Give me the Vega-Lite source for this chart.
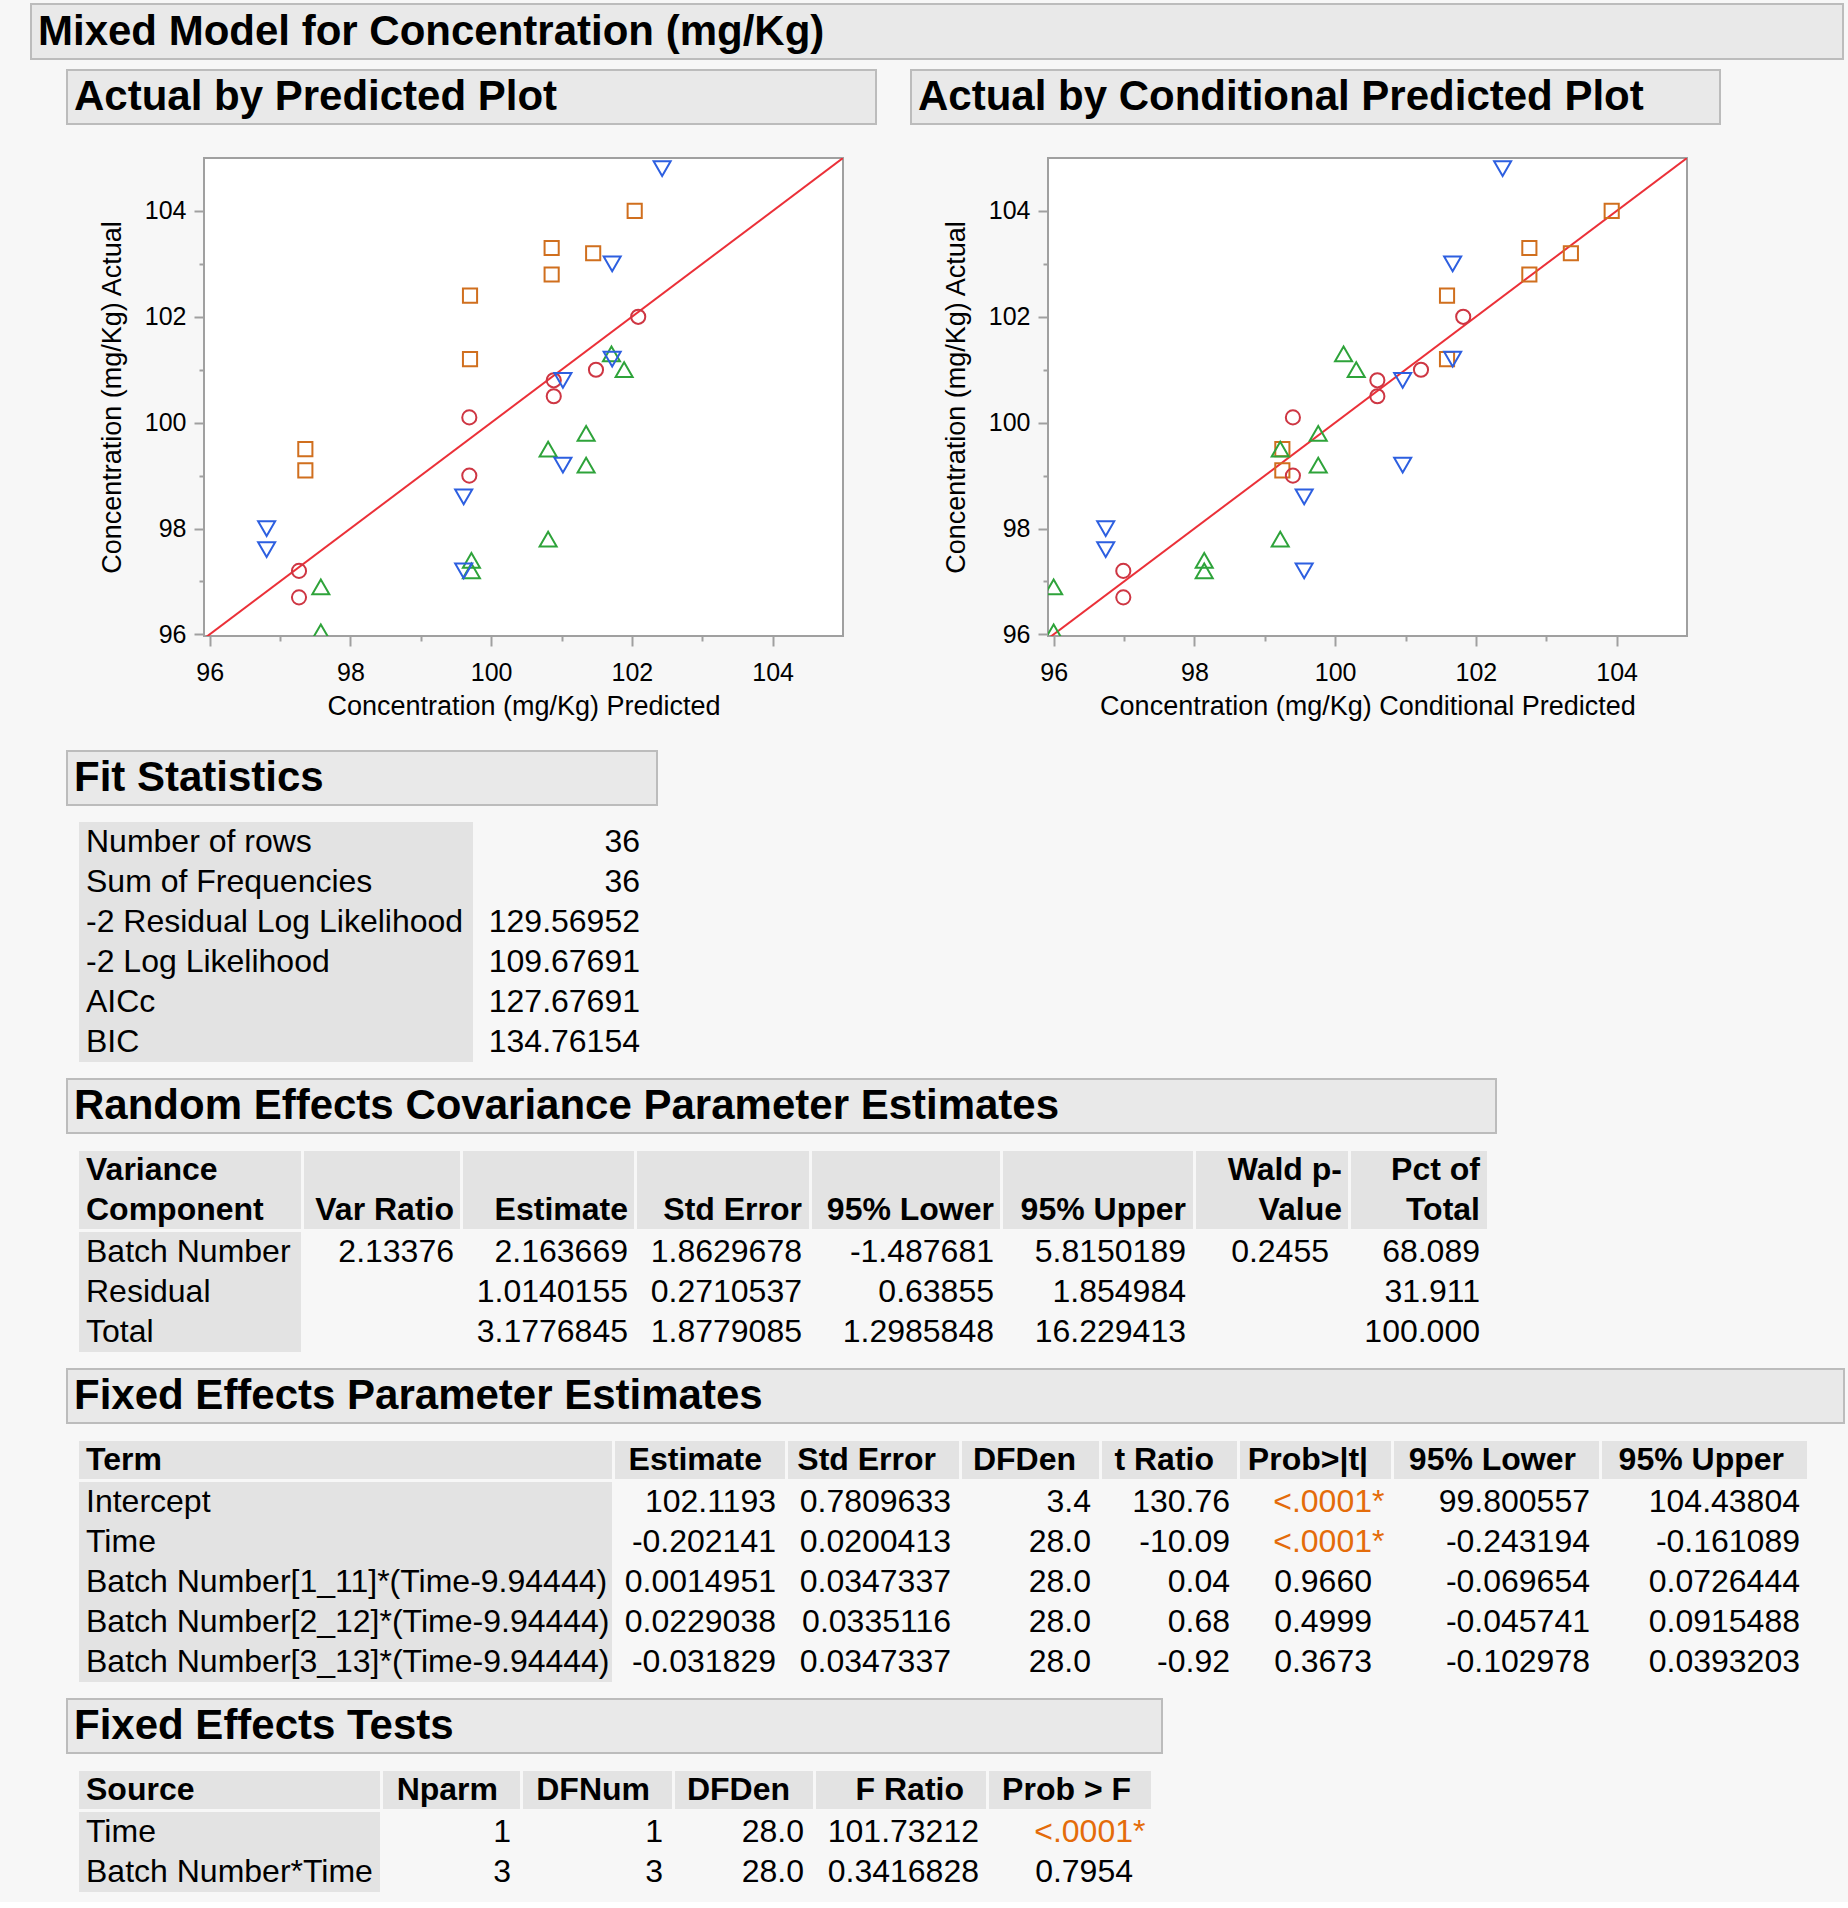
{
"$schema": "https://vega.github.io/schema/vega-lite/v6.json",
"background": "#f7f7f7",
"padding": {"left": 30, "top": 3, "right": 4, "bottom": 10},
"config": {
  "font": "Liberation Sans",
  "view": {"stroke": null},
  "text": {"font": "Liberation Sans", "fontSize": 32, "baseline": "middle", "color": "#000000"}
},
"datasets": {
  "heads": [
    {"k": "main", "h": "Mixed Model for Concentration (mg/Kg)"},
    {"k": "p1", "h": "Actual by Predicted Plot"},
    {"k": "p2", "h": "Actual by Conditional Predicted Plot"},
    {"k": "fit", "h": "Fit Statistics"},
    {"k": "re", "h": "Random Effects Covariance Parameter Estimates"},
    {"k": "fe", "h": "Fixed Effects Parameter Estimates"},
    {"k": "ft", "h": "Fixed Effects Tests"}
  ],
  "pts": [
    {"b": "4", "p": 102.04, "c": 103.93, "a": 104.0},
    {"b": "4", "p": 100.86, "c": 102.76, "a": 103.3},
    {"b": "4", "p": 101.45, "c": 103.35, "a": 103.2},
    {"b": "4", "p": 100.86, "c": 102.76, "a": 102.8},
    {"b": "4", "p": 99.70, "c": 101.59, "a": 102.4},
    {"b": "4", "p": 99.70, "c": 101.59, "a": 101.2},
    {"b": "4", "p": 97.36, "c": 99.25, "a": 99.5},
    {"b": "4", "p": 97.36, "c": 99.25, "a": 99.1},
    {"b": "1", "p": 102.09, "c": 101.82, "a": 102.0},
    {"b": "1", "p": 101.49, "c": 101.22, "a": 101.0},
    {"b": "1", "p": 100.89, "c": 100.60, "a": 100.8},
    {"b": "1", "p": 100.89, "c": 100.60, "a": 100.5},
    {"b": "1", "p": 99.69, "c": 99.40, "a": 100.1},
    {"b": "1", "p": 99.69, "c": 99.40, "a": 99.0},
    {"b": "1", "p": 97.27, "c": 96.99, "a": 97.2},
    {"b": "1", "p": 97.27, "c": 96.99, "a": 96.7},
    {"b": "2", "p": 101.71, "c": 100.12, "a": 101.3},
    {"b": "2", "p": 101.89, "c": 100.30, "a": 101.0},
    {"b": "2", "p": 101.35, "c": 99.76, "a": 99.8},
    {"b": "2", "p": 100.81, "c": 99.22, "a": 99.5},
    {"b": "2", "p": 101.35, "c": 99.76, "a": 99.2},
    {"b": "2", "p": 100.81, "c": 99.22, "a": 97.8},
    {"b": "2", "p": 99.72, "c": 98.14, "a": 97.4},
    {"b": "2", "p": 99.72, "c": 98.14, "a": 97.2},
    {"b": "2", "p": 97.58, "c": 96.0, "a": 96.9},
    {"b": "2", "p": 97.58, "c": 96.0, "a": 96.05},
    {"b": "3", "p": 102.43, "c": 102.38, "a": 104.8},
    {"b": "3", "p": 101.72, "c": 101.67, "a": 103.0},
    {"b": "3", "p": 101.72, "c": 101.67, "a": 101.2},
    {"b": "3", "p": 101.02, "c": 100.96, "a": 100.8},
    {"b": "3", "p": 101.02, "c": 100.96, "a": 99.2},
    {"b": "3", "p": 99.61, "c": 99.56, "a": 98.6},
    {"b": "3", "p": 96.81, "c": 96.74, "a": 98.0},
    {"b": "3", "p": 96.81, "c": 96.74, "a": 97.6},
    {"b": "3", "p": 99.61, "c": 99.56, "a": 97.2}
  ],
  "diag": [
    {"p": 95.9, "c": 95.9, "a": 95.9},
    {"p": 105.1, "c": 105.1, "a": 105.1}
  ],
  "colh": [
    {"k": "re.lab", "h": "Variance\nComponent"},
    {"k": "re.vr", "h": "\nVar Ratio"},
    {"k": "re.est", "h": "\nEstimate"},
    {"k": "re.se", "h": "\nStd Error"},
    {"k": "re.lo", "h": "\n95% Lower"},
    {"k": "re.up", "h": "\n95% Upper"},
    {"k": "re.wald", "h": "Wald p-\nValue"},
    {"k": "re.pct", "h": "Pct of\nTotal"},
    {"k": "fe.lab", "h": "Term"},
    {"k": "fe.est", "h": "Estimate"},
    {"k": "fe.se", "h": "Std Error"},
    {"k": "fe.df", "h": "DFDen"},
    {"k": "fe.t", "h": "t Ratio"},
    {"k": "fe.p", "h": "Prob>|t|"},
    {"k": "fe.lo", "h": "95% Lower"},
    {"k": "fe.up", "h": "95% Upper"},
    {"k": "ft.lab", "h": "Source"},
    {"k": "ft.np", "h": "Nparm"},
    {"k": "ft.dn", "h": "DFNum"},
    {"k": "ft.dd", "h": "DFDen"},
    {"k": "ft.f", "h": "F Ratio"},
    {"k": "ft.p", "h": "Prob > F"}
  ],
  "cells": [
    {"k": "fit.lab", "r": 1, "v": "Number of rows"},
    {"k": "fit.lab", "r": 2, "v": "Sum of Frequencies"},
    {"k": "fit.lab", "r": 3, "v": "-2 Residual Log Likelihood"},
    {"k": "fit.lab", "r": 4, "v": "-2 Log Likelihood"},
    {"k": "fit.lab", "r": 5, "v": "AICc"},
    {"k": "fit.lab", "r": 6, "v": "BIC"},
    {"k": "fit.val", "r": 1, "v": "36"},
    {"k": "fit.val", "r": 2, "v": "36"},
    {"k": "fit.val", "r": 3, "v": "129.56952"},
    {"k": "fit.val", "r": 4, "v": "109.67691"},
    {"k": "fit.val", "r": 5, "v": "127.67691"},
    {"k": "fit.val", "r": 6, "v": "134.76154"},
    {"k": "re.lab", "r": 1, "v": "Batch Number"},
    {"k": "re.lab", "r": 2, "v": "Residual"},
    {"k": "re.lab", "r": 3, "v": "Total"},
    {"k": "re.vr", "r": 1, "v": "2.13376"},
    {"k": "re.est", "r": 1, "v": "2.163669"},
    {"k": "re.est", "r": 2, "v": "1.0140155"},
    {"k": "re.est", "r": 3, "v": "3.1776845"},
    {"k": "re.se", "r": 1, "v": "1.8629678"},
    {"k": "re.se", "r": 2, "v": "0.2710537"},
    {"k": "re.se", "r": 3, "v": "1.8779085"},
    {"k": "re.lo", "r": 1, "v": "-1.487681"},
    {"k": "re.lo", "r": 2, "v": "0.63855"},
    {"k": "re.lo", "r": 3, "v": "1.2985848"},
    {"k": "re.up", "r": 1, "v": "5.8150189"},
    {"k": "re.up", "r": 2, "v": "1.854984"},
    {"k": "re.up", "r": 3, "v": "16.229413"},
    {"k": "re.wald", "r": 1, "v": "0.2455"},
    {"k": "re.pct", "r": 1, "v": "68.089"},
    {"k": "re.pct", "r": 2, "v": "31.911"},
    {"k": "re.pct", "r": 3, "v": "100.000"},
    {"k": "fe.lab", "r": 1, "v": "Intercept"},
    {"k": "fe.lab", "r": 2, "v": "Time"},
    {"k": "fe.lab", "r": 3, "v": "Batch Number[1_11]*(Time-9.94444)"},
    {"k": "fe.lab", "r": 4, "v": "Batch Number[2_12]*(Time-9.94444)"},
    {"k": "fe.lab", "r": 5, "v": "Batch Number[3_13]*(Time-9.94444)"},
    {"k": "fe.est", "r": 1, "v": "102.1193"},
    {"k": "fe.est", "r": 2, "v": "-0.202141"},
    {"k": "fe.est", "r": 3, "v": "0.0014951"},
    {"k": "fe.est", "r": 4, "v": "0.0229038"},
    {"k": "fe.est", "r": 5, "v": "-0.031829"},
    {"k": "fe.se", "r": 1, "v": "0.7809633"},
    {"k": "fe.se", "r": 2, "v": "0.0200413"},
    {"k": "fe.se", "r": 3, "v": "0.0347337"},
    {"k": "fe.se", "r": 4, "v": "0.0335116"},
    {"k": "fe.se", "r": 5, "v": "0.0347337"},
    {"k": "fe.df", "r": 1, "v": "3.4"},
    {"k": "fe.df", "r": 2, "v": "28.0"},
    {"k": "fe.df", "r": 3, "v": "28.0"},
    {"k": "fe.df", "r": 4, "v": "28.0"},
    {"k": "fe.df", "r": 5, "v": "28.0"},
    {"k": "fe.t", "r": 1, "v": "130.76"},
    {"k": "fe.t", "r": 2, "v": "-10.09"},
    {"k": "fe.t", "r": 3, "v": "0.04"},
    {"k": "fe.t", "r": 4, "v": "0.68"},
    {"k": "fe.t", "r": 5, "v": "-0.92"},
    {"k": "fe.p", "r": 1, "v": "<.0001", "s": "*"},
    {"k": "fe.p", "r": 2, "v": "<.0001", "s": "*"},
    {"k": "fe.p", "r": 3, "v": "0.9660"},
    {"k": "fe.p", "r": 4, "v": "0.4999"},
    {"k": "fe.p", "r": 5, "v": "0.3673"},
    {"k": "fe.lo", "r": 1, "v": "99.800557"},
    {"k": "fe.lo", "r": 2, "v": "-0.243194"},
    {"k": "fe.lo", "r": 3, "v": "-0.069654"},
    {"k": "fe.lo", "r": 4, "v": "-0.045741"},
    {"k": "fe.lo", "r": 5, "v": "-0.102978"},
    {"k": "fe.up", "r": 1, "v": "104.43804"},
    {"k": "fe.up", "r": 2, "v": "-0.161089"},
    {"k": "fe.up", "r": 3, "v": "0.0726444"},
    {"k": "fe.up", "r": 4, "v": "0.0915488"},
    {"k": "fe.up", "r": 5, "v": "0.0393203"},
    {"k": "ft.lab", "r": 1, "v": "Time"},
    {"k": "ft.lab", "r": 2, "v": "Batch Number*Time"},
    {"k": "ft.np", "r": 1, "v": "1"},
    {"k": "ft.np", "r": 2, "v": "3"},
    {"k": "ft.dn", "r": 1, "v": "1"},
    {"k": "ft.dn", "r": 2, "v": "3"},
    {"k": "ft.dd", "r": 1, "v": "28.0"},
    {"k": "ft.dd", "r": 2, "v": "28.0"},
    {"k": "ft.f", "r": 1, "v": "101.73212"},
    {"k": "ft.f", "r": 2, "v": "0.3416828"},
    {"k": "ft.p", "r": 1, "v": "<.0001", "s": "*"},
    {"k": "ft.p", "r": 2, "v": "0.7954"}
  ]
},
"spacing": 9,
"vconcat": [
  {"width": 1812, "height": 55, "view": {"fill": "#e9e9e9", "stroke": "#bcbcbc", "strokeWidth": 2},
   "data": {"name": "heads"}, "transform": [{"filter": "datum.k=='main'"}],
   "mark": {"type": "text", "align": "left", "dx": 7, "fontSize": 42, "fontWeight": "bold"},
   "encoding": {"x": {"value": 0}, "text": {"field": "h"}}},
  {"spacing": 0, "hconcat": [
    {"width": 35, "height": 1, "data": {"values": []}, "mark": "point"},
    {"spacing": 16, "vconcat": [
      {"spacing": 33, "hconcat": [
        {"spacing": 32, "vconcat": [
          {"width": 809, "height": 54, "view": {"fill": "#e9e9e9", "stroke": "#bcbcbc", "strokeWidth": 2},
           "data": {"name": "heads"}, "transform": [{"filter": "datum.k=='p1'"}],
           "mark": {"type": "text", "align": "left", "dx": 7, "fontSize": 42, "fontWeight": "bold"},
           "encoding": {"x": {"value": 0}, "text": {"field": "h"}}},
          {"spacing": 0, "hconcat": [
            {"width": 30, "height": 576, "data": {"values": []}, "mark": "point"},
            {"width": 639, "height": 478,
             "view": {"fill": "#ffffff", "stroke": "#a0a0a0", "strokeWidth": 2},
             "encoding": {
               "x": {"field": "p", "type": "quantitative", "scale": {"domain": [95.92, 105], "nice": false, "zero": false},
                     "axis": {"title": "Concentration (mg/Kg) Predicted", "values": [96, 97, 98, 99, 100, 101, 102, 103, 104],
                              "labelExpr": "datum.value % 2 == 0 ? datum.label : ''",
                              "domain": false, "grid": false, "tickColor": "#a0a0a0", "tickWidth": 2,
                              "tickSize": {"condition": {"test": "datum.value % 2 == 0", "value": 10}, "value": 5},
                              "labelFontSize": 25, "labelColor": "#000000", "labelPadding": 14, "labelFlush": false, "labelOverlap": false,
                              "titleFontSize": 27, "titleFontWeight": "normal", "titleColor": "#000000", "titlePadding": 8}},
               "y": {"field": "a", "type": "quantitative", "scale": {"domain": [95.97, 105], "nice": false, "zero": false},
                     "axis": {"title": "Concentration (mg/Kg) Actual", "values": [96, 97, 98, 99, 100, 101, 102, 103, 104],
                              "labelExpr": "datum.value % 2 == 0 ? datum.label : ''",
                              "domain": false, "grid": false, "tickColor": "#a0a0a0", "tickWidth": 2,
                              "tickSize": {"condition": {"test": "datum.value % 2 == 0", "value": 10}, "value": 5},
                              "labelFontSize": 25, "labelColor": "#000000", "labelPadding": 8, "labelFlush": false, "labelOverlap": false,
                              "titleFontSize": 27, "titleFontWeight": "normal", "titleColor": "#000000", "titlePadding": 18}}
             },
             "layer": [
               {"data": {"name": "diag"}, "mark": {"type": "line", "color": "#EB3038", "strokeWidth": 2, "clip": true}, "encoding": {}},
               {"data": {"name": "pts"}, "mark": {"type": "point", "filled": false, "strokeWidth": 2, "opacity": 1, "clip": true},
                "encoding": {
                  "shape": {"field": "b", "type": "nominal", "scale": {"domain": ["1", "2", "3", "4"], "range": ["circle", "triangle-up", "triangle-down", "square"]}, "legend": null},
                  "color": {"field": "b", "type": "nominal", "scale": {"domain": ["1", "2", "3", "4"], "range": ["#CE3643", "#2EA33A", "#2D5FE0", "#D06F1E"]}, "legend": null},
                  "size": {"condition": {"test": "datum.b=='2' || datum.b=='3'", "value": 290}, "value": 200}
                }}
             ]}
          ]}
        ]},
        {"spacing": 32, "vconcat": [
          {"width": 809, "height": 54, "view": {"fill": "#e9e9e9", "stroke": "#bcbcbc", "strokeWidth": 2},
           "data": {"name": "heads"}, "transform": [{"filter": "datum.k=='p2'"}],
           "mark": {"type": "text", "align": "left", "dx": 7, "fontSize": 42, "fontWeight": "bold"},
           "encoding": {"x": {"value": 0}, "text": {"field": "h"}}},
          {"spacing": 0, "hconcat": [
            {"width": 30, "height": 576, "data": {"values": []}, "mark": "point"},
            {"width": 639, "height": 478,
             "view": {"fill": "#ffffff", "stroke": "#a0a0a0", "strokeWidth": 2},
             "encoding": {
               "x": {"field": "c", "type": "quantitative", "scale": {"domain": [95.92, 105], "nice": false, "zero": false},
                     "axis": {"title": "Concentration (mg/Kg) Conditional Predicted", "values": [96, 97, 98, 99, 100, 101, 102, 103, 104],
                              "labelExpr": "datum.value % 2 == 0 ? datum.label : ''",
                              "domain": false, "grid": false, "tickColor": "#a0a0a0", "tickWidth": 2,
                              "tickSize": {"condition": {"test": "datum.value % 2 == 0", "value": 10}, "value": 5},
                              "labelFontSize": 25, "labelColor": "#000000", "labelPadding": 14, "labelFlush": false, "labelOverlap": false,
                              "titleFontSize": 27, "titleFontWeight": "normal", "titleColor": "#000000", "titlePadding": 8}},
               "y": {"field": "a", "type": "quantitative", "scale": {"domain": [95.97, 105], "nice": false, "zero": false},
                     "axis": {"title": "Concentration (mg/Kg) Actual", "values": [96, 97, 98, 99, 100, 101, 102, 103, 104],
                              "labelExpr": "datum.value % 2 == 0 ? datum.label : ''",
                              "domain": false, "grid": false, "tickColor": "#a0a0a0", "tickWidth": 2,
                              "tickSize": {"condition": {"test": "datum.value % 2 == 0", "value": 10}, "value": 5},
                              "labelFontSize": 25, "labelColor": "#000000", "labelPadding": 8, "labelFlush": false, "labelOverlap": false,
                              "titleFontSize": 27, "titleFontWeight": "normal", "titleColor": "#000000", "titlePadding": 18}}
             },
             "layer": [
               {"data": {"name": "diag"}, "mark": {"type": "line", "color": "#EB3038", "strokeWidth": 2, "clip": true}, "encoding": {}},
               {"data": {"name": "pts"}, "mark": {"type": "point", "filled": false, "strokeWidth": 2, "opacity": 1, "clip": true},
                "encoding": {
                  "shape": {"field": "b", "type": "nominal", "scale": {"domain": ["1", "2", "3", "4"], "range": ["circle", "triangle-up", "triangle-down", "square"]}, "legend": null},
                  "color": {"field": "b", "type": "nominal", "scale": {"domain": ["1", "2", "3", "4"], "range": ["#CE3643", "#2EA33A", "#2D5FE0", "#D06F1E"]}, "legend": null},
                  "size": {"condition": {"test": "datum.b=='2' || datum.b=='3'", "value": 290}, "value": 200}
                }}
             ]}
          ]}
        ]}
      ]},
      {"spacing": 16, "vconcat": [
        {"width": 590, "height": 54, "view": {"fill": "#e9e9e9", "stroke": "#bcbcbc", "strokeWidth": 2},
         "data": {"name": "heads"}, "transform": [{"filter": "datum.k=='fit'"}],
         "mark": {"type": "text", "align": "left", "dx": 7, "fontSize": 42, "fontWeight": "bold"},
         "encoding": {"x": {"value": 0}, "text": {"field": "h"}}},
        {"spacing": 3, "hconcat": [
          {"width": 9, "height": 1, "data": {"values": []}, "mark": "point"},
          {"width": 394, "height": 240, "view": {"fill": "#e3e3e3"}, "data": {"name": "cells"}, "transform": [{"filter": "datum.k=='fit.lab'"}],
           "mark": {"type": "text", "align": "left", "dx": 7},
           "encoding": {"x": {"value": 0}, "y": {"field": "r", "type": "ordinal", "axis": null, "scale": {"domain": [1, 2, 3, 4, 5, 6], "paddingInner": 0, "paddingOuter": 0}}, "text": {"field": "v"}}},
          {"width": 170, "height": 240, "data": {"name": "cells"}, "transform": [{"filter": "datum.k=='fit.val'"}],
           "mark": {"type": "text", "align": "right", "dx": -6},
           "encoding": {"x": {"value": "width"}, "y": {"field": "r", "type": "ordinal", "axis": null, "scale": {"domain": [1, 2, 3, 4, 5, 6], "paddingInner": 0, "paddingOuter": 0}}, "text": {"field": "v"}}}
        ]}
      ]},
      {"spacing": 17, "vconcat": [
        {"width": 1429, "height": 54, "view": {"fill": "#e9e9e9", "stroke": "#bcbcbc", "strokeWidth": 2},
         "data": {"name": "heads"}, "transform": [{"filter": "datum.k=='re'"}],
         "mark": {"type": "text", "align": "left", "dx": 7, "fontSize": 42, "fontWeight": "bold"},
         "encoding": {"x": {"value": 0}, "text": {"field": "h"}}},
        {"spacing": 3, "hconcat": [
          {"width": 9, "height": 1, "data": {"values": []}, "mark": "point"},
          {"spacing": 3, "vconcat": [
            {"width": 222, "height": 78, "view": {"fill": "#e3e3e3"}, "data": {"name": "colh"}, "transform": [{"filter": "datum.k=='re.lab'"}],
             "mark": {"type": "text", "align": "left", "dx": 7, "dy": -20, "fontWeight": "bold", "lineBreak": "\n", "lineHeight": 40},
             "encoding": {"x": {"value": 0}, "text": {"field": "h"}}},
            {"width": 222, "height": 120, "view": {"fill": "#e3e3e3"}, "data": {"name": "cells"}, "transform": [{"filter": "datum.k=='re.lab'"}],
             "mark": {"type": "text", "align": "left", "dx": 7},
             "encoding": {"x": {"value": 0}, "y": {"field": "r", "type": "ordinal", "axis": null, "scale": {"domain": [1, 2, 3], "paddingInner": 0, "paddingOuter": 0}}, "text": {"field": "v"}}}
          ]},
          {"spacing": 3, "vconcat": [
            {"width": 156, "height": 78, "view": {"fill": "#e3e3e3"}, "data": {"name": "colh"}, "transform": [{"filter": "datum.k=='re.vr'"}],
             "mark": {"type": "text", "align": "right", "dx": -6, "dy": -20, "fontWeight": "bold", "lineBreak": "\n", "lineHeight": 40},
             "encoding": {"x": {"value": "width"}, "text": {"field": "h"}}},
            {"width": 156, "height": 120, "data": {"name": "cells"}, "transform": [{"filter": "datum.k=='re.vr'"}],
             "mark": {"type": "text", "align": "right", "dx": -6},
             "encoding": {"x": {"value": "width"}, "y": {"field": "r", "type": "ordinal", "axis": null, "scale": {"domain": [1, 2, 3], "paddingInner": 0, "paddingOuter": 0}}, "text": {"field": "v"}}}
          ]},
          {"spacing": 3, "vconcat": [
            {"width": 171, "height": 78, "view": {"fill": "#e3e3e3"}, "data": {"name": "colh"}, "transform": [{"filter": "datum.k=='re.est'"}],
             "mark": {"type": "text", "align": "right", "dx": -6, "dy": -20, "fontWeight": "bold", "lineBreak": "\n", "lineHeight": 40},
             "encoding": {"x": {"value": "width"}, "text": {"field": "h"}}},
            {"width": 171, "height": 120, "data": {"name": "cells"}, "transform": [{"filter": "datum.k=='re.est'"}],
             "mark": {"type": "text", "align": "right", "dx": -6},
             "encoding": {"x": {"value": "width"}, "y": {"field": "r", "type": "ordinal", "axis": null, "scale": {"domain": [1, 2, 3], "paddingInner": 0, "paddingOuter": 0}}, "text": {"field": "v"}}}
          ]},
          {"spacing": 3, "vconcat": [
            {"width": 172, "height": 78, "view": {"fill": "#e3e3e3"}, "data": {"name": "colh"}, "transform": [{"filter": "datum.k=='re.se'"}],
             "mark": {"type": "text", "align": "right", "dx": -7, "dy": -20, "fontWeight": "bold", "lineBreak": "\n", "lineHeight": 40},
             "encoding": {"x": {"value": "width"}, "text": {"field": "h"}}},
            {"width": 172, "height": 120, "data": {"name": "cells"}, "transform": [{"filter": "datum.k=='re.se'"}],
             "mark": {"type": "text", "align": "right", "dx": -7},
             "encoding": {"x": {"value": "width"}, "y": {"field": "r", "type": "ordinal", "axis": null, "scale": {"domain": [1, 2, 3], "paddingInner": 0, "paddingOuter": 0}}, "text": {"field": "v"}}}
          ]},
          {"spacing": 3, "vconcat": [
            {"width": 188, "height": 78, "view": {"fill": "#e3e3e3"}, "data": {"name": "colh"}, "transform": [{"filter": "datum.k=='re.lo'"}],
             "mark": {"type": "text", "align": "right", "dx": -6, "dy": -20, "fontWeight": "bold", "lineBreak": "\n", "lineHeight": 40},
             "encoding": {"x": {"value": "width"}, "text": {"field": "h"}}},
            {"width": 188, "height": 120, "data": {"name": "cells"}, "transform": [{"filter": "datum.k=='re.lo'"}],
             "mark": {"type": "text", "align": "right", "dx": -6},
             "encoding": {"x": {"value": "width"}, "y": {"field": "r", "type": "ordinal", "axis": null, "scale": {"domain": [1, 2, 3], "paddingInner": 0, "paddingOuter": 0}}, "text": {"field": "v"}}}
          ]},
          {"spacing": 3, "vconcat": [
            {"width": 190, "height": 78, "view": {"fill": "#e3e3e3"}, "data": {"name": "colh"}, "transform": [{"filter": "datum.k=='re.up'"}],
             "mark": {"type": "text", "align": "right", "dx": -7, "dy": -20, "fontWeight": "bold", "lineBreak": "\n", "lineHeight": 40},
             "encoding": {"x": {"value": "width"}, "text": {"field": "h"}}},
            {"width": 190, "height": 120, "data": {"name": "cells"}, "transform": [{"filter": "datum.k=='re.up'"}],
             "mark": {"type": "text", "align": "right", "dx": -7},
             "encoding": {"x": {"value": "width"}, "y": {"field": "r", "type": "ordinal", "axis": null, "scale": {"domain": [1, 2, 3], "paddingInner": 0, "paddingOuter": 0}}, "text": {"field": "v"}}}
          ]},
          {"spacing": 3, "vconcat": [
            {"width": 152, "height": 78, "view": {"fill": "#e3e3e3"}, "data": {"name": "colh"}, "transform": [{"filter": "datum.k=='re.wald'"}],
             "mark": {"type": "text", "align": "right", "dx": -6, "dy": -20, "fontWeight": "bold", "lineBreak": "\n", "lineHeight": 40},
             "encoding": {"x": {"value": "width"}, "text": {"field": "h"}}},
            {"width": 152, "height": 120, "data": {"name": "cells"}, "transform": [{"filter": "datum.k=='re.wald'"}],
             "mark": {"type": "text", "align": "right", "dx": -19},
             "encoding": {"x": {"value": "width"}, "y": {"field": "r", "type": "ordinal", "axis": null, "scale": {"domain": [1, 2, 3], "paddingInner": 0, "paddingOuter": 0}}, "text": {"field": "v"}}}
          ]},
          {"spacing": 3, "vconcat": [
            {"width": 136, "height": 78, "view": {"fill": "#e3e3e3"}, "data": {"name": "colh"}, "transform": [{"filter": "datum.k=='re.pct'"}],
             "mark": {"type": "text", "align": "right", "dx": -7, "dy": -20, "fontWeight": "bold", "lineBreak": "\n", "lineHeight": 40},
             "encoding": {"x": {"value": "width"}, "text": {"field": "h"}}},
            {"width": 136, "height": 120, "data": {"name": "cells"}, "transform": [{"filter": "datum.k=='re.pct'"}],
             "mark": {"type": "text", "align": "right", "dx": -7},
             "encoding": {"x": {"value": "width"}, "y": {"field": "r", "type": "ordinal", "axis": null, "scale": {"domain": [1, 2, 3], "paddingInner": 0, "paddingOuter": 0}}, "text": {"field": "v"}}}
          ]}
        ]}
      ]},
      {"spacing": 17, "vconcat": [
        {"width": 1777, "height": 54, "view": {"fill": "#e9e9e9", "stroke": "#bcbcbc", "strokeWidth": 2},
         "data": {"name": "heads"}, "transform": [{"filter": "datum.k=='fe'"}],
         "mark": {"type": "text", "align": "left", "dx": 7, "fontSize": 42, "fontWeight": "bold"},
         "encoding": {"x": {"value": 0}, "text": {"field": "h"}}},
        {"spacing": 3, "hconcat": [
          {"width": 9, "height": 1, "data": {"values": []}, "mark": "point"},
          {"spacing": 3, "vconcat": [
            {"width": 533, "height": 38, "view": {"fill": "#e3e3e3"}, "data": {"name": "colh"}, "transform": [{"filter": "datum.k=='fe.lab'"}],
             "mark": {"type": "text", "align": "left", "dx": 7, "fontWeight": "bold"},
             "encoding": {"x": {"value": 0}, "text": {"field": "h"}}},
            {"width": 533, "height": 200, "view": {"fill": "#e3e3e3"}, "data": {"name": "cells"}, "transform": [{"filter": "datum.k=='fe.lab'"}],
             "mark": {"type": "text", "align": "left", "dx": 7},
             "encoding": {"x": {"value": 0}, "y": {"field": "r", "type": "ordinal", "axis": null, "scale": {"domain": [1, 2, 3, 4, 5], "paddingInner": 0, "paddingOuter": 0}}, "text": {"field": "v"}}}
          ]},
          {"spacing": 3, "vconcat": [
            {"width": 170, "height": 38, "view": {"fill": "#e3e3e3"}, "data": {"name": "colh"}, "transform": [{"filter": "datum.k=='fe.est'"}],
             "mark": {"type": "text", "align": "right", "dx": -23, "fontWeight": "bold"},
             "encoding": {"x": {"value": "width"}, "text": {"field": "h"}}},
            {"width": 170, "height": 200, "data": {"name": "cells"}, "transform": [{"filter": "datum.k=='fe.est'"}],
             "mark": {"type": "text", "align": "right", "dx": -9},
             "encoding": {"x": {"value": "width"}, "y": {"field": "r", "type": "ordinal", "axis": null, "scale": {"domain": [1, 2, 3, 4, 5], "paddingInner": 0, "paddingOuter": 0}}, "text": {"field": "v"}}}
          ]},
          {"spacing": 3, "vconcat": [
            {"width": 171, "height": 38, "view": {"fill": "#e3e3e3"}, "data": {"name": "colh"}, "transform": [{"filter": "datum.k=='fe.se'"}],
             "mark": {"type": "text", "align": "right", "dx": -23, "fontWeight": "bold"},
             "encoding": {"x": {"value": "width"}, "text": {"field": "h"}}},
            {"width": 171, "height": 200, "data": {"name": "cells"}, "transform": [{"filter": "datum.k=='fe.se'"}],
             "mark": {"type": "text", "align": "right", "dx": -8},
             "encoding": {"x": {"value": "width"}, "y": {"field": "r", "type": "ordinal", "axis": null, "scale": {"domain": [1, 2, 3, 4, 5], "paddingInner": 0, "paddingOuter": 0}}, "text": {"field": "v"}}}
          ]},
          {"spacing": 3, "vconcat": [
            {"width": 137, "height": 38, "view": {"fill": "#e3e3e3"}, "data": {"name": "colh"}, "transform": [{"filter": "datum.k=='fe.df'"}],
             "mark": {"type": "text", "align": "right", "dx": -23, "fontWeight": "bold"},
             "encoding": {"x": {"value": "width"}, "text": {"field": "h"}}},
            {"width": 137, "height": 200, "data": {"name": "cells"}, "transform": [{"filter": "datum.k=='fe.df'"}],
             "mark": {"type": "text", "align": "right", "dx": -8},
             "encoding": {"x": {"value": "width"}, "y": {"field": "r", "type": "ordinal", "axis": null, "scale": {"domain": [1, 2, 3, 4, 5], "paddingInner": 0, "paddingOuter": 0}}, "text": {"field": "v"}}}
          ]},
          {"spacing": 3, "vconcat": [
            {"width": 135, "height": 38, "view": {"fill": "#e3e3e3"}, "data": {"name": "colh"}, "transform": [{"filter": "datum.k=='fe.t'"}],
             "mark": {"type": "text", "align": "right", "dx": -23, "fontWeight": "bold"},
             "encoding": {"x": {"value": "width"}, "text": {"field": "h"}}},
            {"width": 135, "height": 200, "data": {"name": "cells"}, "transform": [{"filter": "datum.k=='fe.t'"}],
             "mark": {"type": "text", "align": "right", "dx": -7},
             "encoding": {"x": {"value": "width"}, "y": {"field": "r", "type": "ordinal", "axis": null, "scale": {"domain": [1, 2, 3, 4, 5], "paddingInner": 0, "paddingOuter": 0}}, "text": {"field": "v"}}}
          ]},
          {"spacing": 3, "vconcat": [
            {"width": 151, "height": 38, "view": {"fill": "#e3e3e3"}, "data": {"name": "colh"}, "transform": [{"filter": "datum.k=='fe.p'"}],
             "mark": {"type": "text", "align": "right", "dx": -23, "fontWeight": "bold"},
             "encoding": {"x": {"value": "width"}, "text": {"field": "h"}}},
            {"width": 151, "height": 200, "data": {"name": "cells"}, "transform": [{"filter": "datum.k=='fe.p'"}],
             "encoding": {"x": {"value": "width"}, "y": {"field": "r", "type": "ordinal", "axis": null, "scale": {"domain": [1, 2, 3, 4, 5], "paddingInner": 0, "paddingOuter": 0}},
                          "color": {"condition": {"test": "datum.s=='*'", "value": "#E46C0A"}, "value": "#000000"}},
             "layer": [
               {"mark": {"type": "text", "align": "right", "dx": -19}, "encoding": {"text": {"field": "v"}}},
               {"transform": [{"filter": "datum.s=='*'"}], "mark": {"type": "text", "align": "left", "dx": -19}, "encoding": {"text": {"field": "s"}}}
             ]}
          ]},
          {"spacing": 3, "vconcat": [
            {"width": 205, "height": 38, "view": {"fill": "#e3e3e3"}, "data": {"name": "colh"}, "transform": [{"filter": "datum.k=='fe.lo'"}],
             "mark": {"type": "text", "align": "right", "dx": -23, "fontWeight": "bold"},
             "encoding": {"x": {"value": "width"}, "text": {"field": "h"}}},
            {"width": 205, "height": 200, "data": {"name": "cells"}, "transform": [{"filter": "datum.k=='fe.lo'"}],
             "mark": {"type": "text", "align": "right", "dx": -9},
             "encoding": {"x": {"value": "width"}, "y": {"field": "r", "type": "ordinal", "axis": null, "scale": {"domain": [1, 2, 3, 4, 5], "paddingInner": 0, "paddingOuter": 0}}, "text": {"field": "v"}}}
          ]},
          {"spacing": 3, "vconcat": [
            {"width": 205, "height": 38, "view": {"fill": "#e3e3e3"}, "data": {"name": "colh"}, "transform": [{"filter": "datum.k=='fe.up'"}],
             "mark": {"type": "text", "align": "right", "dx": -23, "fontWeight": "bold"},
             "encoding": {"x": {"value": "width"}, "text": {"field": "h"}}},
            {"width": 205, "height": 200, "data": {"name": "cells"}, "transform": [{"filter": "datum.k=='fe.up'"}],
             "mark": {"type": "text", "align": "right", "dx": -7},
             "encoding": {"x": {"value": "width"}, "y": {"field": "r", "type": "ordinal", "axis": null, "scale": {"domain": [1, 2, 3, 4, 5], "paddingInner": 0, "paddingOuter": 0}}, "text": {"field": "v"}}}
          ]}
        ]}
      ]},
      {"spacing": 17, "vconcat": [
        {"width": 1095, "height": 54, "view": {"fill": "#e9e9e9", "stroke": "#bcbcbc", "strokeWidth": 2},
         "data": {"name": "heads"}, "transform": [{"filter": "datum.k=='ft'"}],
         "mark": {"type": "text", "align": "left", "dx": 7, "fontSize": 42, "fontWeight": "bold"},
         "encoding": {"x": {"value": 0}, "text": {"field": "h"}}},
        {"spacing": 3, "hconcat": [
          {"width": 9, "height": 1, "data": {"values": []}, "mark": "point"},
          {"spacing": 3, "vconcat": [
            {"width": 301, "height": 38, "view": {"fill": "#e3e3e3"}, "data": {"name": "colh"}, "transform": [{"filter": "datum.k=='ft.lab'"}],
             "mark": {"type": "text", "align": "left", "dx": 7, "fontWeight": "bold"},
             "encoding": {"x": {"value": 0}, "text": {"field": "h"}}},
            {"width": 301, "height": 80, "view": {"fill": "#e3e3e3"}, "data": {"name": "cells"}, "transform": [{"filter": "datum.k=='ft.lab'"}],
             "mark": {"type": "text", "align": "left", "dx": 7},
             "encoding": {"x": {"value": 0}, "y": {"field": "r", "type": "ordinal", "axis": null, "scale": {"domain": [1, 2], "paddingInner": 0, "paddingOuter": 0}}, "text": {"field": "v"}}}
          ]},
          {"spacing": 3, "vconcat": [
            {"width": 137, "height": 38, "view": {"fill": "#e3e3e3"}, "data": {"name": "colh"}, "transform": [{"filter": "datum.k=='ft.np'"}],
             "mark": {"type": "text", "align": "right", "dx": -22, "fontWeight": "bold"},
             "encoding": {"x": {"value": "width"}, "text": {"field": "h"}}},
            {"width": 137, "height": 80, "data": {"name": "cells"}, "transform": [{"filter": "datum.k=='ft.np'"}],
             "mark": {"type": "text", "align": "right", "dx": -9},
             "encoding": {"x": {"value": "width"}, "y": {"field": "r", "type": "ordinal", "axis": null, "scale": {"domain": [1, 2], "paddingInner": 0, "paddingOuter": 0}}, "text": {"field": "v"}}}
          ]},
          {"spacing": 3, "vconcat": [
            {"width": 149, "height": 38, "view": {"fill": "#e3e3e3"}, "data": {"name": "colh"}, "transform": [{"filter": "datum.k=='ft.dn'"}],
             "mark": {"type": "text", "align": "right", "dx": -22, "fontWeight": "bold"},
             "encoding": {"x": {"value": "width"}, "text": {"field": "h"}}},
            {"width": 149, "height": 80, "data": {"name": "cells"}, "transform": [{"filter": "datum.k=='ft.dn'"}],
             "mark": {"type": "text", "align": "right", "dx": -9},
             "encoding": {"x": {"value": "width"}, "y": {"field": "r", "type": "ordinal", "axis": null, "scale": {"domain": [1, 2], "paddingInner": 0, "paddingOuter": 0}}, "text": {"field": "v"}}}
          ]},
          {"spacing": 3, "vconcat": [
            {"width": 138, "height": 38, "view": {"fill": "#e3e3e3"}, "data": {"name": "colh"}, "transform": [{"filter": "datum.k=='ft.dd'"}],
             "mark": {"type": "text", "align": "right", "dx": -23, "fontWeight": "bold"},
             "encoding": {"x": {"value": "width"}, "text": {"field": "h"}}},
            {"width": 138, "height": 80, "data": {"name": "cells"}, "transform": [{"filter": "datum.k=='ft.dd'"}],
             "mark": {"type": "text", "align": "right", "dx": -9},
             "encoding": {"x": {"value": "width"}, "y": {"field": "r", "type": "ordinal", "axis": null, "scale": {"domain": [1, 2], "paddingInner": 0, "paddingOuter": 0}}, "text": {"field": "v"}}}
          ]},
          {"spacing": 3, "vconcat": [
            {"width": 170, "height": 38, "view": {"fill": "#e3e3e3"}, "data": {"name": "colh"}, "transform": [{"filter": "datum.k=='ft.f'"}],
             "mark": {"type": "text", "align": "right", "dx": -22, "fontWeight": "bold"},
             "encoding": {"x": {"value": "width"}, "text": {"field": "h"}}},
            {"width": 170, "height": 80, "data": {"name": "cells"}, "transform": [{"filter": "datum.k=='ft.f'"}],
             "mark": {"type": "text", "align": "right", "dx": -7},
             "encoding": {"x": {"value": "width"}, "y": {"field": "r", "type": "ordinal", "axis": null, "scale": {"domain": [1, 2], "paddingInner": 0, "paddingOuter": 0}}, "text": {"field": "v"}}}
          ]},
          {"spacing": 3, "vconcat": [
            {"width": 162, "height": 38, "view": {"fill": "#e3e3e3"}, "data": {"name": "colh"}, "transform": [{"filter": "datum.k=='ft.p'"}],
             "mark": {"type": "text", "align": "right", "dx": -20, "fontWeight": "bold"},
             "encoding": {"x": {"value": "width"}, "text": {"field": "h"}}},
            {"width": 162, "height": 80, "data": {"name": "cells"}, "transform": [{"filter": "datum.k=='ft.p'"}],
             "encoding": {"x": {"value": "width"}, "y": {"field": "r", "type": "ordinal", "axis": null, "scale": {"domain": [1, 2], "paddingInner": 0, "paddingOuter": 0}},
                          "color": {"condition": {"test": "datum.s=='*'", "value": "#E46C0A"}, "value": "#000000"}},
             "layer": [
               {"mark": {"type": "text", "align": "right", "dx": -18}, "encoding": {"text": {"field": "v"}}},
               {"transform": [{"filter": "datum.s=='*'"}], "mark": {"type": "text", "align": "left", "dx": -18}, "encoding": {"text": {"field": "s"}}}
             ]}
          ]}
        ]}
      ]}
    ]}
  ]}
]
}
